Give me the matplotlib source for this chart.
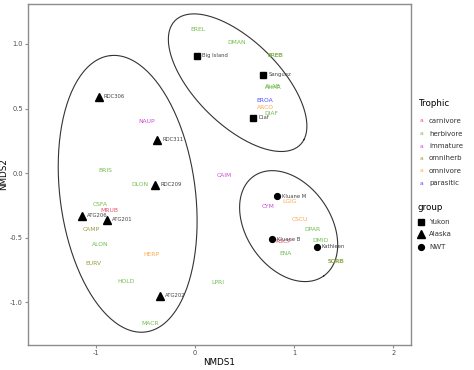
import numpy as np
import matplotlib
matplotlib.use("Agg")
import matplotlib.pyplot as plt
from matplotlib.lines import Line2D

# species scores (text labels coloured by trophic group)
species = ["EREL", "DMAN", "EPEB", "EREB", "AHAR", "ALAB", "EROA", "ARCO", "DIAF",
           "NAUP", "BRIS", "DLON", "CSFA", "MRUB", "CAMP", "ALON", "HERP", "EURV",
           "HOLD", "LPRI", "MACR", "CAIM", "LGIG", "CYM", "CSCU", "DPAR", "RSCP",
           "DMID", "ENA", "SORB", "SCRB"]
sp_x = [0.03, 0.42, 0.81, 0.81, 0.79, 0.79, 0.70, 0.71, 0.77,
        -0.49, -0.91, -0.56, -0.96, -0.86, -1.05, -0.96, -0.44, -1.03,
        -0.70, 0.23, -0.45, 0.29, 0.95, 0.74, 1.06, 1.19, 0.89,
        1.27, 0.91, 1.42, 1.42]
sp_y = [1.11, 1.01, 0.91, 0.91, 0.66, 0.67, 0.56, 0.51, 0.46,
        0.40, 0.02, -0.09, -0.24, -0.29, -0.44, -0.55, -0.63, -0.70,
        -0.84, -0.85, -1.16, -0.02, -0.22, -0.26, -0.36, -0.44, -0.53,
        -0.52, -0.62, -0.68, -0.68]
sp_troph = ["herbivore", "herbivore", "omniherb", "herbivore", "herbivore", "herbivore",
            "parasitic", "omnivore", "herbivore",
            "immature", "herbivore", "herbivore", "herbivore", "carnivore", "omniherb",
            "herbivore", "omnivore", "omniherb", "herbivore", "herbivore", "herbivore",
            "immature", "omnivore", "immature", "omnivore", "herbivore", "carnivore",
            "herbivore", "herbivore", "herbivore", "omniherb"]

trophic = ["carnivore", "herbivore", "immature", "omniherb", "omnivore", "parasitic"]
troph_col = ["#E8506E", "#72BC4E", "#C84FD0", "#9A9A3C", "#FFA64D", "#4B4BFF"]

# site scores
sites = ["Big Island", "Sanguez", "Diaf", "RDC306", "RDC311", "RDC209",
         "ATG206", "ATG201", "ATG202", "Kluane M", "Kluane B", "Kathleen"]
site_x = [0.02, 0.69, 0.59, -0.97, -0.38, -0.40, -1.14, -0.89, -0.35, 0.83, 0.78, 1.23]
site_y = [0.91, 0.76, 0.43, 0.59, 0.26, -0.09, -0.33, -0.36, -0.95, -0.18, -0.51, -0.57]
site_grp = ["Yukon", "Yukon", "Yukon", "Alaska", "Alaska", "Alaska",
            "Alaska", "Alaska", "Alaska", "NWT", "NWT", "NWT"]

groups = ["Yukon", "Alaska", "NWT"]
grp_marker = ["s", "^", "o"]
grp_size = [4.2, 5.2, 4.2]

# ellipses: centre, first and second semi-axis vectors
ell_centre = [(0.43, 0.70), (-0.68, -0.16), (0.945, -0.41)]
ell_a = [(0.67, -0.44), (-0.17, 1.07), (0.355, -0.385)]
ell_b = [(-0.20, -0.30), (0.68, 0.05), (0.345, 0.19)]

fig = plt.figure(figsize=(4.74, 3.70), dpi=100)
ax = fig.add_axes([28 / 474, 25 / 370, 383 / 474, 341 / 370])

t = np.linspace(0, 2 * np.pi, 200)
for c, a, b in zip(ell_centre, ell_a, ell_b):
    ex = c[0] + a[0] * np.cos(t) + b[0] * np.sin(t)
    ey = c[1] + a[1] * np.cos(t) + b[1] * np.sin(t)
    ax.plot(ex, ey, color="#333333", lw=0.8)

cmap = dict(zip(trophic, troph_col))
for name, x, y, tr in zip(species, sp_x, sp_y, sp_troph):
    ax.text(x, y, name, color=cmap[tr], fontsize=4.3, ha="center", va="center")

for g, m, s in zip(groups, grp_marker, grp_size):
    xs = [x for x, gg in zip(site_x, site_grp) if gg == g]
    ys = [y for y, gg in zip(site_y, site_grp) if gg == g]
    ax.plot(xs, ys, linestyle="none", marker=m, color="black", markersize=s)
for name, x, y in zip(sites, site_x, site_y):
    ax.annotate(name, (x, y), xytext=(3.5, 0), textcoords="offset points",
                fontsize=3.8, color="#444444", ha="left", va="center")

ax.set_xlim(-1.686, 2.18)
ax.set_ylim(-1.33, 1.309)
ax.set_xticks([-1, 0, 1, 2])
ax.set_xticklabels(["-1", "0", "1", "2"])
ax.set_yticks([-1.0, -0.5, 0.0, 0.5, 1.0])
ax.set_yticklabels(["-1.0", "-0.5", "0.0", "0.5", "1.0"])
ax.tick_params(labelsize=4.8, colors="#8C8C8C", labelcolor="#4D4D4D", length=2.2, width=0.8, pad=1.5)
for sp in ax.spines.values():
    sp.set_color("#8C8C8C")
    sp.set_linewidth(1.0)
ax.set_xlabel("NMDS1", fontsize=6.3, color="black")
ax.set_ylabel("NMDS2", fontsize=6.3, color="black")
ax.xaxis.set_label_coords(0.5, -(358 - 345) / 341)
ax.yaxis.set_label_coords(-(28 - 8) / 383, 0.5)

# legends drawn by hand to mimic ggplot
fig.text(418 / 474, 1 - 103 / 370, "Trophic", fontsize=6.3, va="center", ha="left")
for i, (lab, col) in enumerate(zip(trophic, troph_col)):
    yy = 1 - (121 + 12.5 * i) / 370
    fig.text(421 / 474, yy, "a", color=col, fontsize=4.3, va="center", ha="center")
    fig.text(429 / 474, yy, lab, fontsize=5.0, color="#333333", va="center", ha="left")

fig.text(418 / 474, 1 - 208 / 370, "group", fontsize=6.3, va="center", ha="left")
for i, (lab, m, s) in enumerate(zip(groups, grp_marker, grp_size)):
    yy = 1 - (222 + 12.3 * i) / 370
    fig.add_artist(Line2D([421 / 474], [yy], marker=m, color="black", markersize=s,
                          linestyle="none", transform=fig.transFigure))
    fig.text(429 / 474, yy, lab, fontsize=5.0, color="#333333", va="center", ha="left")

fig.savefig("out.png", dpi=100)
